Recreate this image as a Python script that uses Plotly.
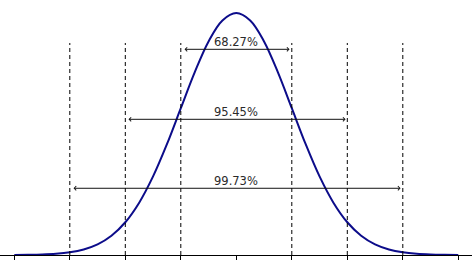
import plotly.graph_objects as go

sigma_x = [-4.0, -3.75, -3.5, -3.25, -3.0, -2.75, -2.5, -2.25, -2.0, -1.75, -1.5, -1.25, -1.0,
           -0.75, -0.5, -0.25, 0.0, 0.25, 0.5, 0.75, 1.0, 1.25, 1.5, 1.75, 2.0, 2.25, 2.5,
           2.75, 3.0, 3.25, 3.5, 3.75, 4.0]
density = [0.0001, 0.0004, 0.0009, 0.0020, 0.0044, 0.0091, 0.0175, 0.0317, 0.0540, 0.0863,
           0.1295, 0.1826, 0.2420, 0.3011, 0.3521, 0.3867, 0.3989, 0.3867, 0.3521, 0.3011,
           0.2420, 0.1826, 0.1295, 0.0863, 0.0540, 0.0317, 0.0175, 0.0091, 0.0044, 0.0020,
           0.0009, 0.0004, 0.0001]

tick_positions = [-4, -3, -2, -1, 0, 1, 2, 3, 4]
guide_positions = [-3, -2, -1, 1, 2, 3]
guide_top = 0.3495

interval_labels = ["68.27%", "95.45%", "99.73%"]
interval_halfwidth = [0.96, 1.97, 2.96]
interval_level = [0.3391, 0.2237, 0.1100]

fig = go.Figure()
fig.add_trace(go.Scatter(x=sigma_x, y=density, mode="lines",
                         line=dict(color="#0c0c8a", width=2, shape="spline", smoothing=1.0),
                         hoverinfo="skip", showlegend=False))

shapes = []
for gx in guide_positions:
    shapes.append(dict(type="line", xref="x", yref="y", x0=gx, x1=gx, y0=0, y1=guide_top,
                       line=dict(color="black", width=1, dash="4px,3px")))

annotations = []
for lab, hw, lvl in zip(interval_labels, interval_halfwidth, interval_level):
    annotations.append(dict(x=hw, y=lvl, ax=-hw, ay=lvl, xref="x", yref="y", axref="x", ayref="y",
                            text="", showarrow=True, arrowhead=4, arrowsize=0.8, arrowwidth=1,
                            arrowcolor="#111", arrowside="end+start", standoff=0, startstandoff=0))
    annotations.append(dict(x=0, y=lvl, xref="x", yref="y", text=lab, showarrow=False,
                            yanchor="bottom", xanchor="center", yshift=-2,
                            font=dict(family="DejaVu Sans, sans-serif", size=11.5, color="#2a2a2a")))

fig.update_layout(
    width=472, height=264,
    margin=dict(l=0, r=0, t=0, b=0),
    paper_bgcolor="white", plot_bgcolor="white",
    shapes=shapes, annotations=annotations,
    xaxis=dict(range=[-4.258, 4.247], showgrid=False, zeroline=False,
               showline=True, linecolor="black", linewidth=1,
               ticks="outside", ticklen=4, tickwidth=1, tickcolor="black",
               tickvals=tick_positions, showticklabels=False,
               anchor="free", position=9 / 264),
    yaxis=dict(range=[-0.01484, 0.42037], visible=False, showgrid=False, zeroline=False),
)

fig.write_html("out.html")
